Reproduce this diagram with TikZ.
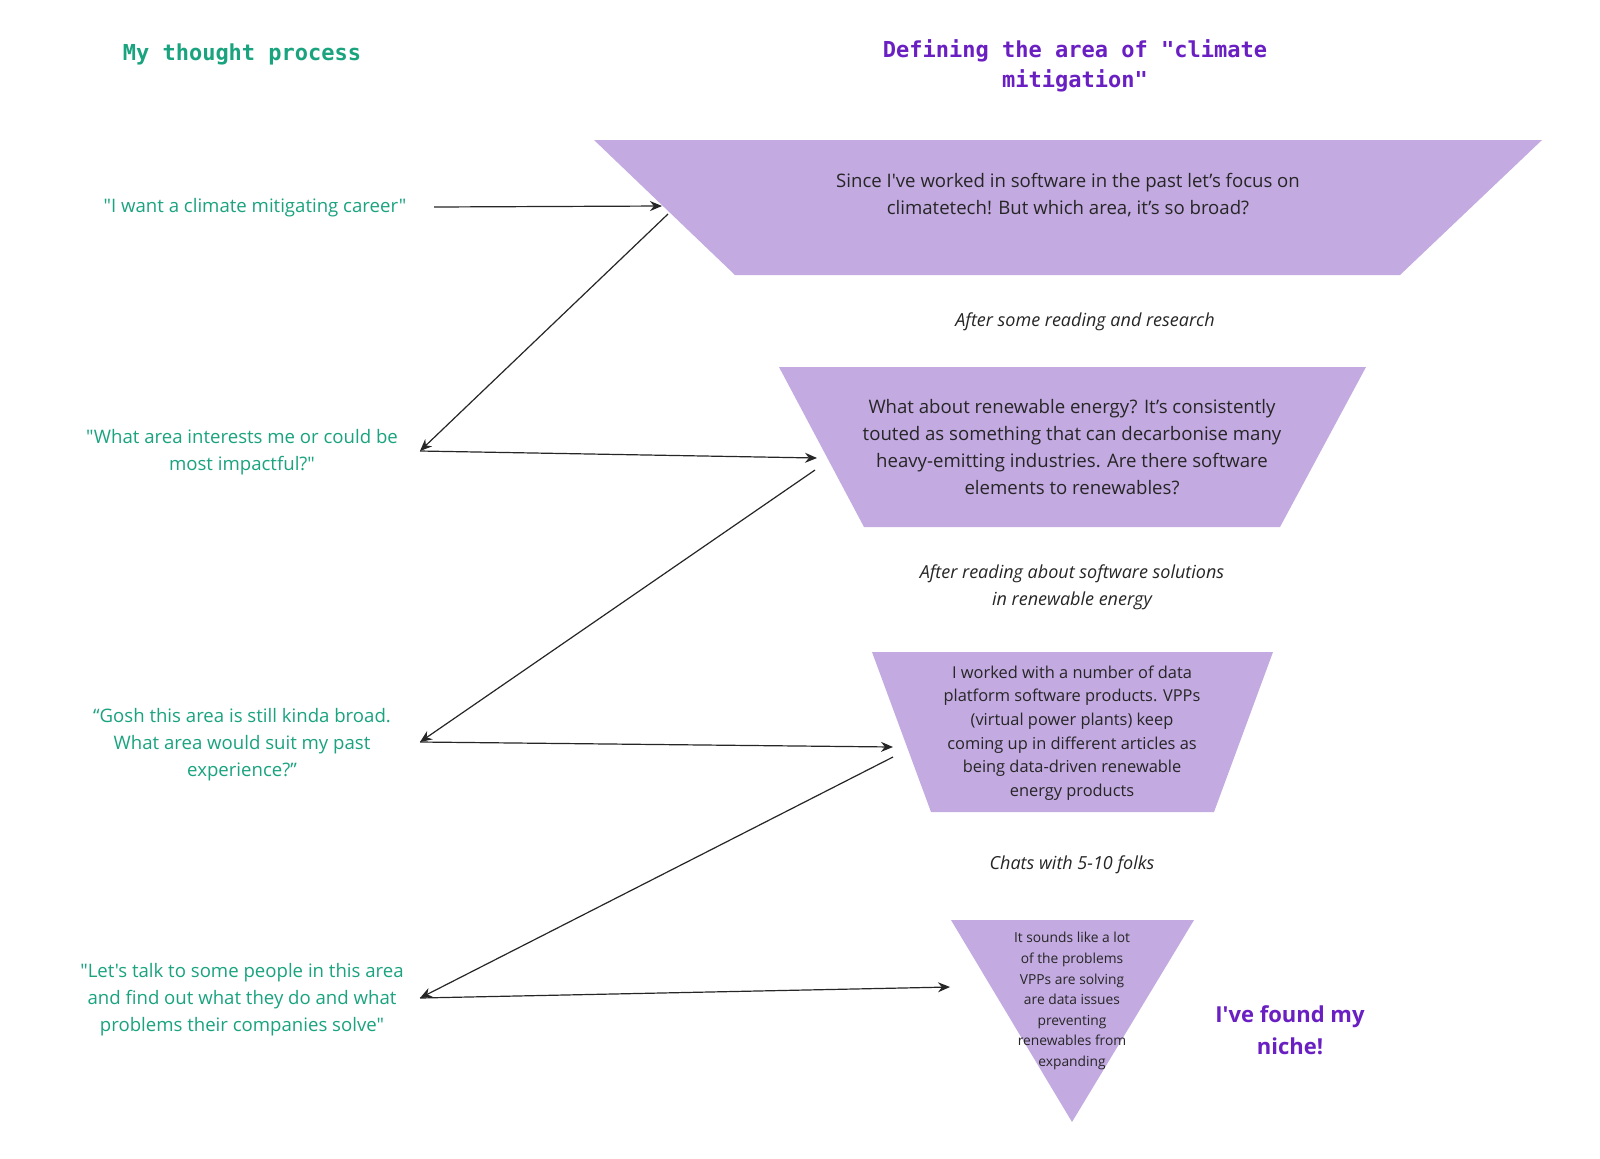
\documentclass[tikz,border=0pt]{standalone}
\usepackage{fontspec}
\setmainfont{Open Sans}[Ligatures=TeXOff]
\newfontfamily\headmono{DejaVu Sans Mono}
\usetikzlibrary{arrows.meta}
\definecolor{tgreen}{HTML}{1AA37F}
\definecolor{pfill}{HTML}{C3AAE1}
\definecolor{ptext}{HTML}{6A1FC2}
\begin{document}
\begin{tikzpicture}[x=0.5pt,y=-0.5pt,
  lefttxt/.style={text=tgreen,align=center,font=\fontsize{9.3}{13.5}\selectfont},
  box/.style={fill=pfill,draw=none},
  boxtxt/.style={align=center,text=black!85,font=\fontsize{9.3}{13.5}\selectfont},
  steptxt/.style={align=center,text=black!85,font=\fontsize{9}{13.5}\selectfont\itshape},
  head/.style={align=center,font=\headmono\bfseries\fontsize{11}{15}\selectfont},
  arr/.style={-{Stealth[length=6pt,width=5pt]},line width=0.6pt,black!85}]
\useasboundingbox (0,0) rectangle (1600,1158);
\fill[white] (0,0) rectangle (1600,1158);
\node[head,text=tgreen] (h1) at (242,54) {My thought process};
\node[head,text=ptext] (h2) at (1075,66) {Defining the area of "climate\\mitigation"};
\fill[box] (594,140) -- (1542,140) -- (1400,275) -- (735,275) -- cycle;
\fill[box] (779,367) -- (1366,367) -- (1280,527) -- (864,527) -- cycle;
\fill[box] (872,652) -- (1273,652) -- (1214,812) -- (931,812) -- cycle;
\fill[box] (951,920) -- (1194,920) -- (1072,1122) -- cycle;
\node[boxtxt] (b1) at (1068,195) {Since I've worked in software in the past let’s focus on\\climatetech! But which area, it’s so broad?};
\node[boxtxt] (b2) at (1072,447) {What about renewable energy? It’s consistently\\touted as something that can decarbonise many\\heavy-emitting industries. Are there software\\elements to renewables?};
\node[boxtxt,font=\fontsize{8.2}{11.8}\selectfont] (b3) at (1072,733) {I worked with a number of data\\platform software products. VPPs\\(virtual power plants) keep\\coming up in different articles as\\being data-driven renewable\\energy products};
\node[boxtxt,font=\fontsize{6.9}{10.3}\selectfont] (b4) at (1072,1001) {It sounds like a lot\\of the problems\\VPPs are solving\\are data issues\\preventing\\renewables from\\expanding};
\node[steptxt] (s1) at (1085,322) {After some reading and research};
\node[steptxt] (s2) at (1072,587) {After reading about software solutions\\in renewable energy};
\node[steptxt] (s3) at (1072,865) {Chats with 5-10 folks};
\node[align=center,text=ptext,font=\bfseries\fontsize{11}{16}\selectfont] (n) at (1290,1030) {I've found my\\niche!};
\node[lefttxt] (l1) at (255,208) {"I want a climate mitigating career"};
\node[lefttxt] (l2) at (242,452) {"What area interests me or could be\\most impactful?"};
\node[lefttxt] (l3) at (242,745) {“Gosh this area is still kinda broad.\\What area would suit my past\\experience?”};
\node[lefttxt] (l4) at (242,1000) {"Let's talk to some people in this area\\and find out what they do and what\\problems their companies solve"};
\coordinate (a1s) at (434,207); \coordinate (a1e) at (662,206);
\coordinate (a2s) at (668,214); \coordinate (p2) at (420,451);
\coordinate (a3e) at (817,458);
\coordinate (a4s) at (815,470); \coordinate (p3) at (420,742);
\coordinate (a5e) at (893,747);
\coordinate (a6s) at (893,757); \coordinate (p4) at (420,998);
\coordinate (a7e) at (950,987);
\draw[arr] (a1s) -- (a1e);
\draw[arr] (a2s) -- (p2);
\draw[arr] (p2) -- (a3e);
\draw[arr] (a4s) -- (p3);
\draw[arr] (p3) -- (a5e);
\draw[arr] (a6s) -- (p4);
\draw[arr] (p4) -- (a7e);
\end{tikzpicture}
\end{document}
